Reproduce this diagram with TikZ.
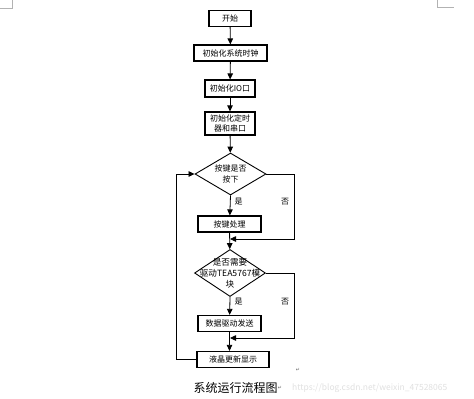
\documentclass[tikz,border=0pt]{standalone}
\usepackage{fontspec}
\setmainfont{Noto Sans CJK SC}
\newfontfamily\symfont{DejaVu Sans}
\usetikzlibrary{shapes.geometric,arrows.meta}
\tikzset{
  x=1pt,y=-1pt,
  box/.style={draw,line width=1.2pt,minimum height=16pt,inner sep=0pt,font=\fontsize{8}{10}\selectfont,align=center},
  dia/.style={draw,line width=0.9pt,diamond,inner sep=0pt,minimum width=71pt,minimum height=42pt},
  dtext/.style={font=\fontsize{8}{10.5}\selectfont,align=center,inner sep=0pt},
  lbl/.style={font=\fontsize{8}{10}\selectfont,inner sep=0pt},
  arr/.style={line width=0.8pt,-{Triangle[length=6pt,width=5.5pt]}},
  parmark/.style={font=\symfont\fontsize{5}{5}\selectfont,text=black!60,inner sep=0pt},
  corner/.style={draw=black!30,line width=0.5pt}
}
\begin{document}
\begin{tikzpicture}
\useasboundingbox (0,0) rectangle (474,399);
% page corner marks
\draw[corner] (12,0) -- (12,8) -- (0,8);
\draw[corner] (437,0) -- (437,7) -- (454,7);
% nodes
\node[box,minimum width=42pt] (start) at (230,18.5) {开始};
\node[box,minimum width=73pt] (clk) at (230.5,53) {初始化系统时钟};
\node[box,minimum width=50pt,minimum height=17pt] (io) at (230,88.5) {初始化IO口};
\node[box,minimum width=50pt,minimum height=23pt] (tim) at (230,123.5) {初始化定时\\器和串口};
\node[dia] (d1) at (230.5,174) {};
\node[dtext] (d1t) at (230.5,174) {按键是否\\按下};
\node[box,minimum width=63pt] (proc) at (229.5,224) {按键处理};
\node[dia,minimum height=47pt] (d2) at (230,273) {};
\node[dtext,font=\fontsize{8.6}{11}\selectfont] (d2t) at (230,273) {是否需要\\驱动TEA5767模\\块};
\node[box,minimum width=63pt] (send) at (229.5,323.5) {数据驱动发送};
\node[box,minimum width=72pt] (lcd) at (233,359.5) {液晶更新显示};
\coordinate (j1) at (230,239);
\coordinate (j2) at (230,338);
\coordinate (r1) at (294,174);
\coordinate (r1b) at (294,239);
\coordinate (r2) at (294,273);
\coordinate (r2b) at (294,338);
\coordinate (l1) at (176,359.5);
\coordinate (l2) at (176,174);
% connectors
\draw[arr] (start) -- (clk);
\draw[arr] (clk) -- (io);
\draw[arr] (io) -- (tim);
\draw[arr] (tim) -- (d1);
\draw[arr] (d1.south) -- (proc);
\draw[arr] (proc) -- (d2);
\draw[arr] (d1.east) -- (r1) -- (r1b) -- (j1);
\draw[arr] (d2.south) -- (send);
\draw[arr] (send.south) -- (send.south |- lcd.north);
\draw[arr] (d2.east) -- (r2) -- (r2b) -- (j2);
\draw[arr] (lcd.west) -- (l1) -- (l2) -- (d1.west);
% labels
\node[lbl] (y1) at (238.5,202) {是};
\node[lbl] (n1) at (285,202) {否};
\node[lbl] (y2) at (238.5,302) {是};
\node[lbl] (n2) at (285,302) {否};
% caption
\node[font=\fontsize{12}{12}\selectfont,inner sep=0pt] (cap) at (235.5,388) {系统运行流程图};
\node[parmark,anchor=west] (m1) at (cap.east) {↵};
\node[parmark] (m2) at (298,370) {↵};
\node[font=\fontsize{8.5}{8.5}\selectfont,text=black!12,inner sep=0pt,anchor=west] (wm) at (292,388) {https://blog.csdn.net/weixin\_47528065};
\end{tikzpicture}
\end{document}
